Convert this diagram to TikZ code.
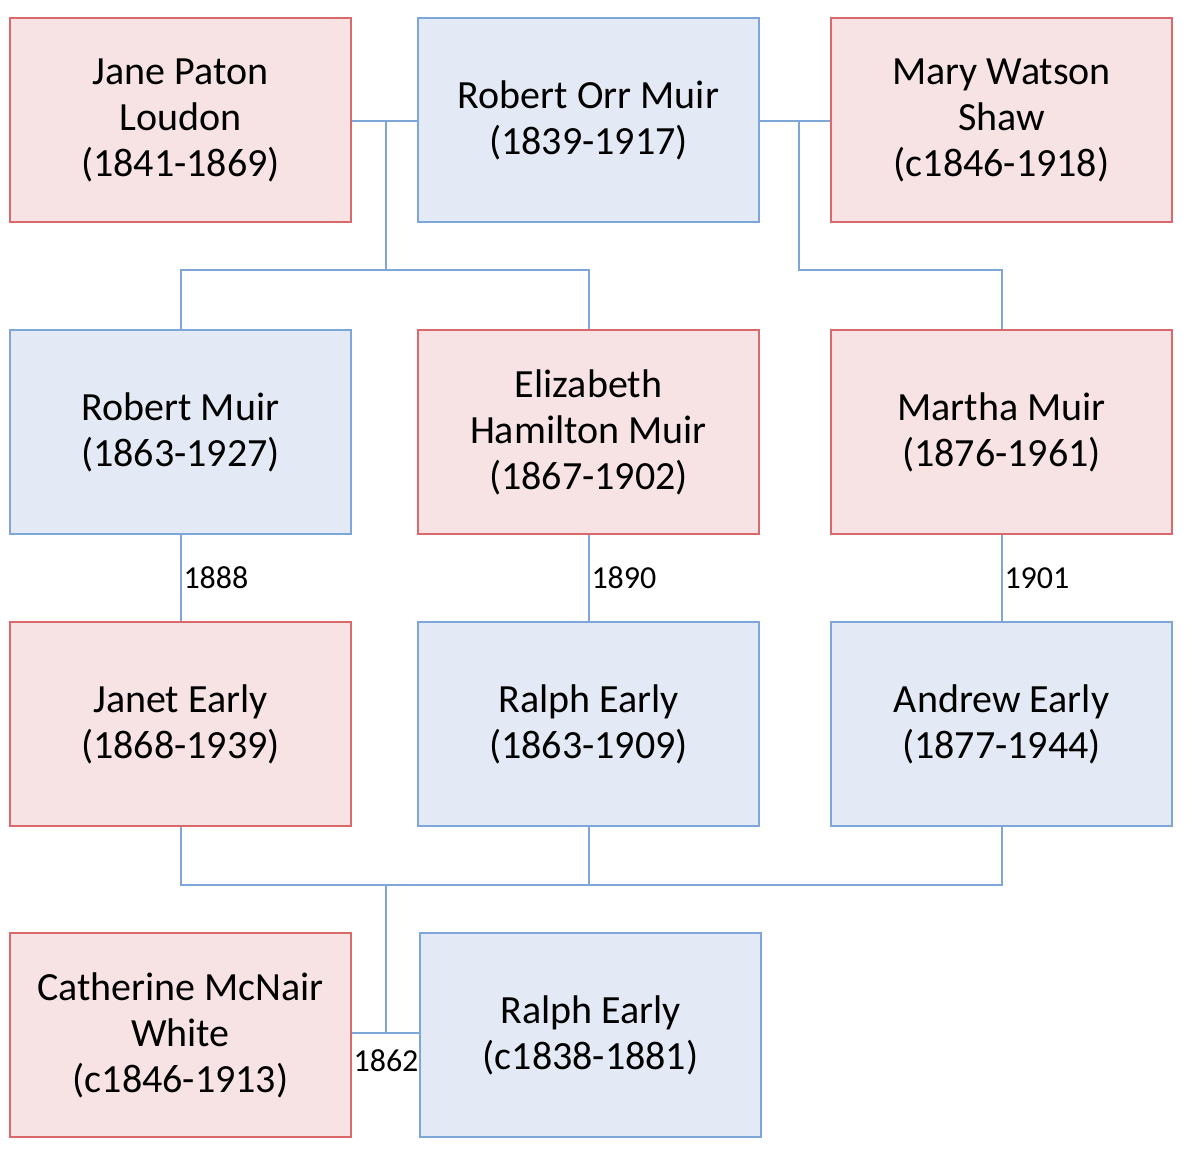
\documentclass[tikz,border=0pt]{standalone}
\usepackage{fontspec}
\setmainfont{Carlito}
\definecolor{pf}{HTML}{F7E3E3}\definecolor{pd}{HTML}{D9696B}
\definecolor{bf}{HTML}{E3EAF5}\definecolor{bd}{HTML}{7EA6D8}
\begin{document}
\begin{tikzpicture}[x=1pt,y=-1pt,
 box/.style={minimum width=341pt,minimum height=204pt,align=center,line width=1.5pt,font=\fontsize{40}{46}\selectfont,inner sep=0pt},
 fbox/.style={box,fill=pf,draw=pd}, mbox/.style={box,fill=bf,draw=bd},
 ln/.style={draw=bd,line width=2pt},
 yr/.style={font=\fontsize{32}{34}\selectfont,inner sep=2pt}]
\useasboundingbox (0,0) rectangle (1196,1160);
\fill[white] (0,0) rectangle (1196,1160);
\node[fbox] (jane) at (180.5,120) {Jane Paton\\Loudon\\(1841-1869)};
\node[mbox] (rom) at (588.5,120) {Robert Orr Muir\\(1839-1917)};
\node[fbox] (mary) at (1001.5,120) {Mary Watson\\Shaw\\(c1846-1918)};
\node[mbox] (rm) at (180.5,432) {Robert Muir\\(1863-1927)};
\node[fbox] (ehm) at (588.5,432) {Elizabeth\\Hamilton Muir\\(1867-1902)};
\node[fbox] (mm) at (1001.5,432) {Martha Muir\\(1876-1961)};
\node[fbox] (je) at (180.5,724) {Janet Early\\(1868-1939)};
\node[mbox] (re) at (588.5,724) {Ralph Early\\(1863-1909)};
\node[mbox] (ae) at (1001.5,724) {Andrew Early\\(1877-1944)};
\node[fbox] (cw) at (180.5,1035) {Catherine McNair\\White\\(c1846-1913)};
\node[mbox] (re2) at (590.5,1035) {Ralph Early\\(c1838-1881)};
\coordinate (m1) at (386,121); \coordinate (m2) at (799,121);
\coordinate (m3) at (386,885); \coordinate (m4) at (386,1033);
\draw[ln] (jane.east |- m1) -- (rom.west |- m1);
\draw[ln] (rom.east |- m2) -- (mary.west |- m2);
\draw[ln] (m1) -- (386,270) -| (rm.north);
\draw[ln] (386,270) -| (ehm.north);
\draw[ln] (m2) -- (799,270) -| (mm.north);
\draw[ln] (rm.south) -- node[yr,right] {1888} (je.north);
\draw[ln] (ehm.south) -- node[yr,right] {1890} (re.north);
\draw[ln] (mm.south) -- node[yr,right] {1901} (ae.north);
\draw[ln] (je.south) |- (m3) -| (ae.south);
\draw[ln] (re.south) -- (re.south |- m3);
\draw[ln] (m3) -- (m4);
\draw[ln] (cw.east |- m4) -- (re2.west |- m4);
\node[yr] (y62) at (386,1061) {1862};
\end{tikzpicture}
\end{document}
